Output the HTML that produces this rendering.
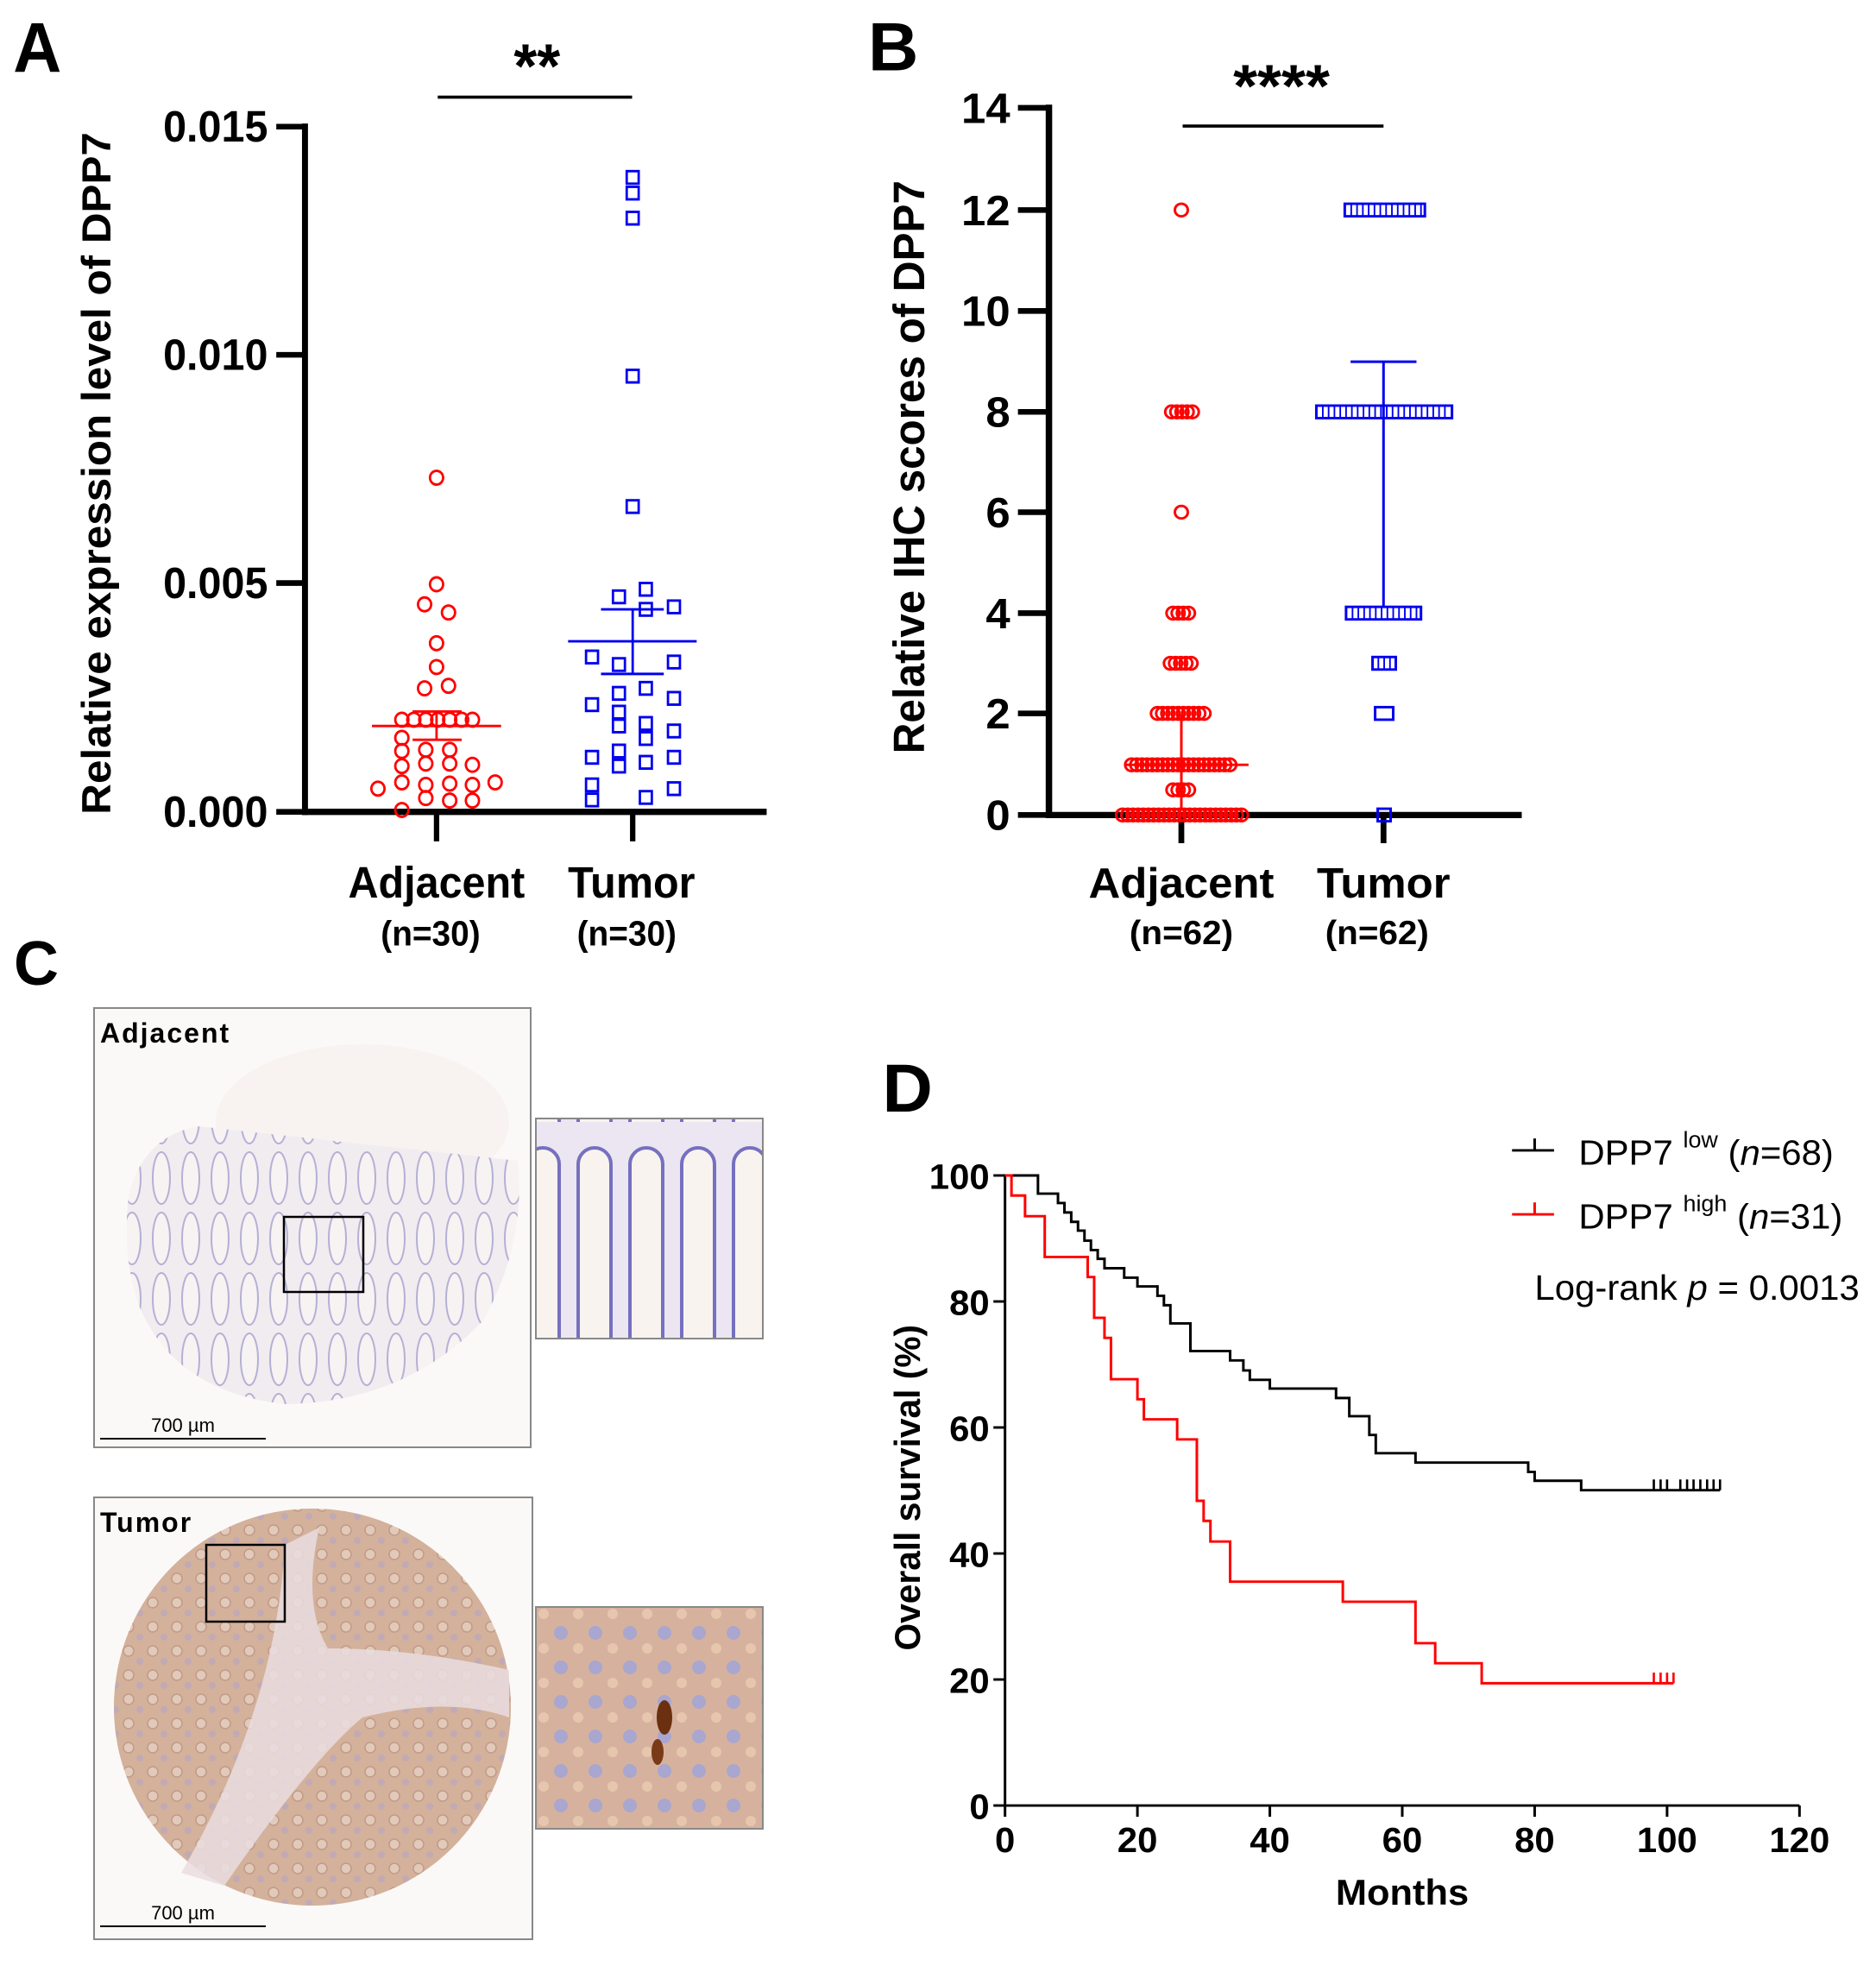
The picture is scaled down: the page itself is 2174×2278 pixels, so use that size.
<!DOCTYPE html>
<html><head><meta charset="utf-8"><style>
html,body{margin:0;padding:0;background:#fff;}
svg{display:block;}
text{font-family:"Liberation Sans",sans-serif;}
</style></head><body>
<svg width="2174" height="2278" viewBox="0 0 2174 2278" xmlns="http://www.w3.org/2000/svg">
<defs>
<pattern id="crypt" width="34" height="70" patternUnits="userSpaceOnUse">
<rect width="34" height="70" fill="#f4f2f7"/>
<ellipse cx="17" cy="35" rx="10" ry="30" fill="#fcfafa" stroke="#a9a7d8" stroke-width="2"/>
</pattern>
<pattern id="glands" width="28" height="28" patternUnits="userSpaceOnUse">
<rect width="28" height="28" fill="#d8b49c"/>
<circle cx="9" cy="9" r="6" fill="#f3e2d4" stroke="#b98b78" stroke-width="1.5"/>
<circle cx="22" cy="21" r="4" fill="#b8a8c8"/>
</pattern>
<pattern id="insA" width="60" height="260" patternUnits="userSpaceOnUse">
<rect width="60" height="260" fill="#ebe6f1"/>
<rect x="10" y="30" width="38" height="260" rx="19" fill="#f9f3f0" stroke="#7670c0" stroke-width="4"/>
</pattern>
<pattern id="insT" width="40" height="40" patternUnits="userSpaceOnUse">
<rect width="40" height="40" fill="#d6b29e"/>
<circle cx="10" cy="12" r="8" fill="#a9a6cf"/>
<circle cx="30" cy="30" r="6" fill="#e6c7ae"/>
</pattern>
</defs>

<!-- ===== Panel A ===== -->
<g transform="scale(0.693,0.7264)">
<text x="22" y="115" font-size="112" font-weight="bold">A</text>
<text x="898" y="140" font-size="100" font-weight="bold" text-anchor="middle">**</text>
<line x1="732" y1="155" x2="1057" y2="155" stroke="#000" stroke-width="5"/>
<line x1="510" y1="197" x2="510" y2="1300" stroke="#000" stroke-width="10"/>
<line x1="505" y1="1295" x2="1282" y2="1295" stroke="#000" stroke-width="10"/>
<g stroke="#000" stroke-width="9">
<line x1="462" y1="202" x2="510" y2="202"/><line x1="462" y1="566" x2="510" y2="566"/>
<line x1="462" y1="930" x2="510" y2="930"/><line x1="462" y1="1295" x2="510" y2="1295"/>
<line x1="730" y1="1295" x2="730" y2="1342"/><line x1="1058" y1="1295" x2="1058" y2="1342"/>
</g>
<g font-size="70" font-weight="bold" text-anchor="end">
<text x="448" y="226">0.015</text><text x="448" y="590">0.010</text>
<text x="448" y="954">0.005</text><text x="448" y="1319">0.000</text>
</g>
<text transform="translate(185,755) rotate(-90)" font-size="68" font-weight="bold" text-anchor="middle">Relative expression level of DPP7</text>
<g font-weight="bold" text-anchor="middle">
<text x="730" y="1432" font-size="70">Adjacent</text><text x="1056" y="1432" font-size="70">Tumor</text>
<text x="720" y="1508" font-size="56">(n=30)</text><text x="1048" y="1508" font-size="56">(n=30)</text>
</g>
<g fill="none" stroke="#f00" stroke-width="4">
<circle cx="730" cy="762" r="11"/><circle cx="730" cy="932" r="11"/><circle cx="710" cy="964" r="11"/><circle cx="750" cy="977" r="11"/>
<circle cx="730" cy="1026" r="11"/><circle cx="730" cy="1064" r="11"/><circle cx="710" cy="1098" r="11"/><circle cx="750" cy="1094" r="11"/>
<circle cx="672" cy="1148" r="11"/><circle cx="692" cy="1148" r="11"/><circle cx="712" cy="1148" r="11"/><circle cx="732" cy="1148" r="11"/>
<circle cx="752" cy="1148" r="11"/><circle cx="772" cy="1148" r="11"/><circle cx="790" cy="1148" r="11"/><circle cx="672" cy="1177" r="11"/>
<circle cx="712" cy="1196" r="11"/><circle cx="672" cy="1198" r="11"/><circle cx="752" cy="1196" r="11"/><circle cx="672" cy="1222" r="11"/>
<circle cx="712" cy="1218" r="11"/><circle cx="752" cy="1218" r="11"/><circle cx="790" cy="1220" r="11"/><circle cx="672" cy="1248" r="11"/>
<circle cx="712" cy="1252" r="11"/><circle cx="752" cy="1250" r="11"/><circle cx="790" cy="1252" r="11"/><circle cx="632" cy="1258" r="11"/>
<circle cx="828" cy="1248" r="11"/><circle cx="712" cy="1273" r="11"/><circle cx="752" cy="1277" r="11"/><circle cx="790" cy="1277" r="11"/>
<circle cx="672" cy="1292" r="11"/>
<line x1="622" y1="1158" x2="838" y2="1158"/><line x1="730" y1="1135" x2="730" y2="1180"/>
<line x1="690" y1="1135" x2="772" y2="1135"/><line x1="690" y1="1180" x2="772" y2="1180"/>
</g>
<g fill="none" stroke="#0000ee" stroke-width="4">
<rect x="1048" y="273" width="20" height="20"/><rect x="1048" y="298" width="20" height="20"/><rect x="1048" y="338" width="20" height="20"/>
<rect x="1048" y="590" width="20" height="20"/><rect x="1048" y="798" width="20" height="20"/><rect x="1025" y="942" width="20" height="20"/>
<rect x="1070" y="930" width="20" height="20"/><rect x="1070" y="962" width="20" height="20"/><rect x="1117" y="958" width="20" height="20"/>
<rect x="980" y="1038" width="20" height="20"/><rect x="1025" y="1050" width="20" height="20"/><rect x="1117" y="1046" width="20" height="20"/>
<rect x="980" y="1114" width="20" height="20"/><rect x="1025" y="1096" width="20" height="20"/><rect x="1070" y="1088" width="20" height="20"/>
<rect x="1117" y="1104" width="20" height="20"/><rect x="1025" y="1126" width="20" height="20"/><rect x="1025" y="1148" width="20" height="20"/>
<rect x="1070" y="1144" width="20" height="20"/><rect x="1117" y="1156" width="20" height="20"/><rect x="1070" y="1168" width="20" height="20"/>
<rect x="980" y="1198" width="20" height="20"/><rect x="1025" y="1188" width="20" height="20"/><rect x="1025" y="1212" width="20" height="20"/>
<rect x="1117" y="1198" width="20" height="20"/><rect x="1070" y="1206" width="20" height="20"/><rect x="980" y="1242" width="20" height="20"/>
<rect x="980" y="1266" width="20" height="20"/><rect x="1070" y="1262" width="20" height="20"/><rect x="1117" y="1248" width="20" height="20"/>
<line x1="950" y1="1023" x2="1165" y2="1023"/><line x1="1058" y1="972" x2="1058" y2="1075"/>
<line x1="1005" y1="972" x2="1110" y2="972"/><line x1="1005" y1="1075" x2="1110" y2="1075"/>
</g>
</g>

<!-- ===== Panel B ===== -->
<g transform="translate(1000,0) scale(0.7485,0.7264)">
<text x="8" y="112" font-size="108" font-weight="bold">B</text>
<text x="648" y="170" font-size="96" font-weight="bold" text-anchor="middle">****</text>
<line x1="495" y1="201" x2="806" y2="201" stroke="#000" stroke-width="5"/>
<line x1="288" y1="167" x2="288" y2="1305" stroke="#000" stroke-width="10"/>
<line x1="283" y1="1300" x2="1020" y2="1300" stroke="#000" stroke-width="10"/>
<g stroke="#000" stroke-width="9">
<line x1="240" y1="172" x2="288" y2="172"/><line x1="240" y1="335" x2="288" y2="335"/><line x1="240" y1="496" x2="288" y2="496"/>
<line x1="240" y1="657" x2="288" y2="657"/><line x1="240" y1="817" x2="288" y2="817"/><line x1="240" y1="978" x2="288" y2="978"/>
<line x1="240" y1="1138" x2="288" y2="1138"/><line x1="240" y1="1300" x2="288" y2="1300"/>
<line x1="493" y1="1300" x2="493" y2="1345"/><line x1="806" y1="1300" x2="806" y2="1345"/>
</g>
<g font-size="68" font-weight="bold" text-anchor="end">
<text x="228" y="196">14</text><text x="228" y="359">12</text><text x="228" y="520">10</text><text x="228" y="681">8</text>
<text x="228" y="841">6</text><text x="228" y="1002">4</text><text x="228" y="1162">2</text><text x="228" y="1324">0</text>
</g>
<text transform="translate(95,745) rotate(-90)" font-size="68" font-weight="bold" text-anchor="middle">Relative IHC scores of DPP7</text>
<g font-weight="bold" text-anchor="middle">
<text x="493" y="1432" font-size="68">Adjacent</text><text x="806" y="1432" font-size="68">Tumor</text>
<text x="493" y="1506" font-size="54">(n=62)</text><text x="796" y="1506" font-size="54">(n=62)</text>
</g>
<g fill="none" stroke="#f00" stroke-width="4">
<circle cx="493" cy="335" r="10"/><circle cx="493" cy="817" r="10"/>
<circle cx="478" cy="657" r="10"/><circle cx="486" cy="657" r="10"/><circle cx="494" cy="657" r="10"/><circle cx="502" cy="657" r="10"/><circle cx="510" cy="657" r="10"/>
<circle cx="480" cy="978" r="10"/><circle cx="488" cy="978" r="10"/><circle cx="496" cy="978" r="10"/><circle cx="504" cy="978" r="10"/>
<circle cx="476" cy="1058" r="10"/><circle cx="484" cy="1058" r="10"/><circle cx="492" cy="1058" r="10"/><circle cx="500" cy="1058" r="10"/><circle cx="508" cy="1058" r="10"/>
<circle cx="456" cy="1138" r="10"/><circle cx="464" cy="1138" r="10"/><circle cx="472" cy="1138" r="10"/><circle cx="480" cy="1138" r="10"/><circle cx="488" cy="1138" r="10"/><circle cx="496" cy="1138" r="10"/><circle cx="504" cy="1138" r="10"/><circle cx="512" cy="1138" r="10"/><circle cx="520" cy="1138" r="10"/><circle cx="528" cy="1138" r="10"/>
<circle cx="416" cy="1220" r="10"/><circle cx="424" cy="1220" r="10"/><circle cx="432" cy="1220" r="10"/><circle cx="440" cy="1220" r="10"/><circle cx="448" cy="1220" r="10"/><circle cx="456" cy="1220" r="10"/><circle cx="464" cy="1220" r="10"/><circle cx="472" cy="1220" r="10"/><circle cx="480" cy="1220" r="10"/><circle cx="488" cy="1220" r="10"/><circle cx="496" cy="1220" r="10"/><circle cx="504" cy="1220" r="10"/><circle cx="512" cy="1220" r="10"/><circle cx="520" cy="1220" r="10"/><circle cx="528" cy="1220" r="10"/><circle cx="536" cy="1220" r="10"/><circle cx="544" cy="1220" r="10"/><circle cx="552" cy="1220" r="10"/><circle cx="560" cy="1220" r="10"/><circle cx="568" cy="1220" r="10"/>
<circle cx="480" cy="1260" r="10"/><circle cx="488" cy="1260" r="10"/><circle cx="496" cy="1260" r="10"/><circle cx="504" cy="1260" r="10"/>
<circle cx="402" cy="1300" r="10"/><circle cx="410" cy="1300" r="10"/><circle cx="418" cy="1300" r="10"/><circle cx="426" cy="1300" r="10"/><circle cx="434" cy="1300" r="10"/><circle cx="442" cy="1300" r="10"/><circle cx="450" cy="1300" r="10"/><circle cx="458" cy="1300" r="10"/><circle cx="466" cy="1300" r="10"/><circle cx="474" cy="1300" r="10"/><circle cx="482" cy="1300" r="10"/><circle cx="490" cy="1300" r="10"/><circle cx="498" cy="1300" r="10"/><circle cx="506" cy="1300" r="10"/><circle cx="514" cy="1300" r="10"/><circle cx="522" cy="1300" r="10"/><circle cx="530" cy="1300" r="10"/><circle cx="538" cy="1300" r="10"/><circle cx="546" cy="1300" r="10"/><circle cx="554" cy="1300" r="10"/><circle cx="562" cy="1300" r="10"/><circle cx="570" cy="1300" r="10"/><circle cx="578" cy="1300" r="10"/><circle cx="586" cy="1300" r="10"/>
<line x1="405" y1="1220" x2="597" y2="1220"/><line x1="493" y1="1140" x2="493" y2="1290"/>
</g>
<g fill="none" stroke="#0000ee" stroke-width="4">
<rect x="746" y="325" width="124" height="20"/><path d="M756 325v20M765 325v20M774 325v20M783 325v20M792 325v20M801 325v20M810 325v20M819 325v20M828 325v20M837 325v20M846 325v20M855 325v20M864 325v20" stroke-width="2.5"/>
<rect x="702" y="647" width="210" height="20"/><path d="M712 647v20M721 647v20M730 647v20M739 647v20M748 647v20M757 647v20M766 647v20M775 647v20M784 647v20M793 647v20M802 647v20M811 647v20M820 647v20M829 647v20M838 647v20M847 647v20M856 647v20M865 647v20M874 647v20M883 647v20M892 647v20M901 647v20" stroke-width="2.5"/>
<rect x="748" y="968" width="116" height="20"/><path d="M758 968v20M767 968v20M776 968v20M785 968v20M794 968v20M803 968v20M812 968v20M821 968v20M830 968v20M839 968v20M848 968v20M857 968v20" stroke-width="2.5"/>
<rect x="789" y="1048" width="36" height="20"/><path d="M798 1048v20M807 1048v20M816 1048v20" stroke-width="2.5"/>
<rect x="793" y="1128" width="28" height="20"/><rect x="797" y="1290" width="20" height="20"/>
<line x1="806" y1="577" x2="806" y2="968"/><line x1="755" y1="577" x2="857" y2="577"/>
</g>
</g>

<!-- ===== Panel C ===== -->
<text x="16" y="1141" font-size="72" font-weight="bold">C</text>
<rect x="109" y="1168" width="506" height="509" fill="#fbf9f7" stroke="#888" stroke-width="2"/>
<ellipse cx="420" cy="1300" rx="170" ry="90" fill="#f8f3f1"/>
<path d="M150 1380 Q170 1315 230 1305 L600 1345 Q610 1440 560 1530 Q470 1625 330 1627 Q200 1612 160 1510 Q140 1450 150 1380Z" fill="url(#crypt)"/>
<path d="M150 1380 Q170 1315 230 1305 L600 1345 Q610 1440 560 1530 Q470 1625 330 1627 Q200 1612 160 1510 Q140 1450 150 1380Z" fill="#e8d8d4" opacity="0.2"/>
<rect x="329" y="1410" width="92" height="87" fill="none" stroke="#000" stroke-width="2.5"/>
<text x="116" y="1208" font-size="32" font-weight="bold" letter-spacing="2">Adjacent</text>
<line x1="116" y1="1667" x2="308" y2="1667" stroke="#000" stroke-width="2"/>
<text x="212" y="1659" font-size="22" text-anchor="middle">700  µm</text>
<rect x="621" y="1296" width="263" height="255" fill="url(#insA)" stroke="#888" stroke-width="2"/>

<rect x="109" y="1735" width="508" height="512" fill="#fbf9f7" stroke="#888" stroke-width="2"/>
<ellipse cx="362" cy="1978" rx="230" ry="230" fill="url(#glands)"/>
<ellipse cx="362" cy="1978" rx="230" ry="230" fill="#cfae9c" opacity="0.45"/>
<path d="M330 1790 Q320 1980 210 2170 L260 2185 Q360 2040 420 1990 Q520 1965 590 1990 L590 1935 Q480 1910 380 1910 Q350 1860 370 1770Z" fill="#e9dde0" opacity="0.85"/>
<rect x="239" y="1790" width="91" height="89" fill="none" stroke="#000" stroke-width="2.5"/>
<text x="116" y="1775" font-size="32" font-weight="bold" letter-spacing="2">Tumor</text>
<line x1="116" y1="2232" x2="308" y2="2232" stroke="#000" stroke-width="2"/>
<text x="212" y="2224" font-size="22" text-anchor="middle">700  µm</text>
<rect x="621" y="1862" width="263" height="257" fill="url(#insT)" stroke="#888" stroke-width="2"/>
<ellipse cx="770" cy="1990" rx="9" ry="20" fill="#6a3010"/>
<ellipse cx="762" cy="2030" rx="7" ry="15" fill="#7a3a18"/>

<!-- ===== Panel D ===== -->
<g transform="translate(1000,1139) scale(0.7485,0.7264)">
<text x="30" y="205" font-size="108" font-weight="bold">D</text>
<line x1="220" y1="305" x2="220" y2="1314" stroke="#000" stroke-width="4"/>
<line x1="218" y1="1312" x2="1450" y2="1312" stroke="#000" stroke-width="4"/>
<g stroke="#000" stroke-width="4">
<line x1="202" y1="307" x2="220" y2="307"/><line x1="202" y1="508" x2="220" y2="508"/><line x1="202" y1="709" x2="220" y2="709"/>
<line x1="202" y1="910" x2="220" y2="910"/><line x1="202" y1="1111" x2="220" y2="1111"/><line x1="202" y1="1312" x2="220" y2="1312"/>
<line x1="220" y1="1312" x2="220" y2="1330"/><line x1="425" y1="1312" x2="425" y2="1330"/><line x1="630" y1="1312" x2="630" y2="1330"/>
<line x1="835" y1="1312" x2="835" y2="1330"/><line x1="1040" y1="1312" x2="1040" y2="1330"/><line x1="1245" y1="1312" x2="1245" y2="1330"/><line x1="1450" y1="1312" x2="1450" y2="1330"/>
</g>
<g font-size="56" font-weight="bold" text-anchor="end">
<text x="196" y="328">100</text><text x="196" y="529">80</text><text x="196" y="730">60</text>
<text x="196" y="931">40</text><text x="196" y="1132">20</text><text x="196" y="1333">0</text>
</g>
<g font-size="56" font-weight="bold" text-anchor="middle">
<text x="220" y="1386">0</text><text x="425" y="1386">20</text><text x="630" y="1386">40</text><text x="835" y="1386">60</text>
<text x="1040" y="1386">80</text><text x="1245" y="1386">100</text><text x="1450" y="1386">120</text>
<text x="835" y="1470" font-size="58">Months</text>
</g>
<text transform="translate(88,805) rotate(-90)" font-size="56" font-weight="bold" text-anchor="middle">Overall survival (%)</text>
<path d="M220 307H271V336H302V351H312V366H322.5V381H333V395H343V411H353V426H363.5V440H374V455H404.5V470H425V484H456V499H466V514H476V543H507V587H568.5V602H589V618H599V633H630V647H732.5V662H753V691H784V721H794V750H855.5V765H1030V780H1040V794H1112V809H1327" fill="none" stroke="#000" stroke-width="4"/>
<path d="M1224.5 809V792M1235 809V792M1245 809V792M1265.5 809V792M1276 809V792M1286 809V792M1296.5 809V792M1307 809V792M1317 809V792M1327 809V792" stroke="#000" stroke-width="3.5"/>
<path d="M220 307H230V339H251V372H281.5V437H348V469H358V534H374V566H384V632H425V664H435V696H486.5V728H517V826H527.5V858H538V891H568.5V955H743V987H855.5V1053H886V1085H958V1117H1255" fill="none" stroke="#f00" stroke-width="4"/>
<path d="M1224.5 1117V1100M1235 1117V1100M1245 1117V1100M1255 1117V1100" stroke="#f00" stroke-width="3.5"/>
<line x1="1005" y1="267" x2="1070" y2="267" stroke="#000" stroke-width="4"/><line x1="1040" y1="267" x2="1040" y2="248" stroke="#000" stroke-width="4"/>
<line x1="1005" y1="369" x2="1070" y2="369" stroke="#f00" stroke-width="4"/><line x1="1040" y1="369" x2="1040" y2="350" stroke="#f00" stroke-width="4"/>
<text x="1108" y="290" font-size="56">DPP7 <tspan font-size="36" dy="-28">low</tspan><tspan dy="28"> (</tspan><tspan font-style="italic">n</tspan>=68)</text>
<text x="1108" y="392" font-size="56">DPP7 <tspan font-size="36" dy="-28">high</tspan><tspan dy="28"> (</tspan><tspan font-style="italic">n</tspan>=31)</text>
<text x="1040" y="505" font-size="56">Log-rank <tspan font-style="italic">p</tspan> = 0.0013</text>
</g>
</svg>
</body></html>
